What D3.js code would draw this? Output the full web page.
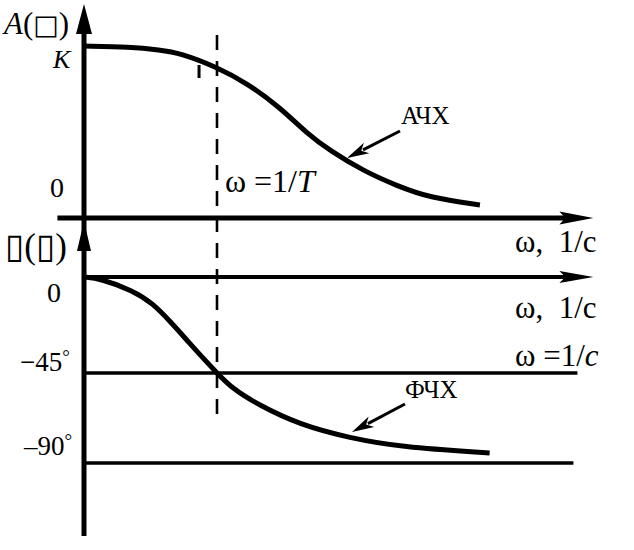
<!DOCTYPE html>
<html><head><meta charset="utf-8">
<script src="https://cdn.jsdelivr.net/npm/d3@7"></script>
<style>body{margin:0;background:#fff}svg{display:block}text{font-family:"Liberation Serif","Times New Roman",serif;fill:#000;white-space:pre}</style>
</head><body>
<svg id="c" width="634" height="550"></svg>
<script>
// ---- data ----
const omegaA = [0, 0.346, 0.571, 0.722, 1.0, 1.226, 1.474, 1.677, 1.850, 2.098, 2.353, 2.602, 2.977];
const ampA   = [1.0, 0.994, 0.977, 0.959, 0.877, 0.784, 0.643, 0.491, 0.392, 0.275, 0.187, 0.117, 0.076];
const omegaPhi = [0, 0.12, 0.368, 0.520, 0.647, 0.774, 0.872, 1.0, 1.12, 1.30, 1.624, 2.0, 2.376, 3.05];
const phaseDeg = [0, -0.7, -6.3, -12.5, -20.8, -29.6, -36.5, -45, -53, -60.5, -71, -77.5, -82, -85];
const phaseTicks = [0, -45, -90];
const cornerOmega = 1.0;      // ω = 1/T
const markOmega = 0.865;      // small tick on АЧХ
const omegaMax = 3.83;

const svg = d3.select("#c");
const x  = d3.scaleLinear().domain([0, 1]).range([84, 217]);
const yA = d3.scaleLinear().domain([0, 1]).range([218, 46]);
const yP = d3.scaleLinear().domain([0, -45, -90]).range([277, 373, 463]);

function line(x1,y1,x2,y2,w,dash){
  const l = svg.append("line").attr("x1",x1).attr("y1",y1).attr("x2",x2).attr("y2",y2)
    .attr("stroke","#000").attr("stroke-width",w);
  if(dash) l.attr("stroke-dasharray",dash);
  return l;
}
function tri(pts){ svg.append("path").attr("d","M"+pts.map(p=>p.join(",")).join("L")+"Z").attr("fill","#000"); }

// dashed line ω = 1/T
line(x(cornerOmega), 35, x(cornerOmega), 422, 2.6, "15,11");

// horizontal reference lines of phase
line(x(0), yP(-45), x(3.71), yP(-45), 3.4);
line(x(0), yP(-90), x(3.68), yP(-90), 3.4);

// axes
line(x(-0.2), yA(0), x(omegaMax)-20, yA(0), 5);
tri([[x(omegaMax), yA(0)], [x(omegaMax)-34, yA(0)-6.5], [x(omegaMax)-28, yA(0)], [x(omegaMax)-34, yA(0)+6.5]]);
line(x(0), yP(0), x(omegaMax)-20, yP(0), 4);
tri([[x(omegaMax), yP(0)], [x(omegaMax)-34, yP(0)-6], [x(omegaMax)-28, yP(0)], [x(omegaMax)-34, yP(0)+6]]);
line(x(0), 536, x(0), 20, 5);
tri([[x(0), 4], [x(0)-8, 34], [x(0)+8, 34]]);
tri([[x(0), 221], [x(0)-7, 251], [x(0)+7, 251]]);

// small tick
line(x(markOmega), 65, x(markOmega), 78, 3);

// curves
const gen = d3.line().curve(d3.curveBasis);
const ptsA = omegaA.map((w,i)=>[x(w), yA(ampA[i])]);
const ptsP = omegaPhi.map((w,i)=>[x(w), yP(phaseDeg[i])]);
svg.append("path").attr("d", gen(ptsA))
  .attr("fill","none").attr("stroke","#000").attr("stroke-width",5);
svg.append("path").attr("d", gen(ptsP))
  .attr("fill","none").attr("stroke","#000").attr("stroke-width",5);

// label arrows
function arrow(x1,y1,x2,y2){
  const a = Math.atan2(y2-y1, x2-x1), L = 22, H = 6;
  const bx = x2 - L*Math.cos(a), by = y2 - L*Math.sin(a);
  line(x1,y1,bx+4*Math.cos(a),by+4*Math.sin(a),3);
  tri([[x2,y2],[bx - H*Math.sin(a), by + H*Math.cos(a)],[bx + 6*Math.cos(a), by + 6*Math.sin(a)],[bx + H*Math.sin(a), by - H*Math.cos(a)]]);
}
arrow(400,131,347,158);
arrow(405,404,352,432);

// texts
function txt(s,xp,yp,size,style){ const t=svg.append("text").attr("x",xp).attr("y",yp).attr("font-size",size); if(style) t.attr("font-style",style); t.text(s); return t; }

// A(□)
const tA = svg.append("text").attr("x",4).attr("y",34).attr("font-size",31);
tA.append("tspan").attr("font-style","italic").text("A");
tA.append("tspan").text("(");
tA.append("tspan").attr("font-family","DejaVu Sans").attr("font-size",27).text("□");
tA.append("tspan").text(")");
txt("K",53,68,26,"italic");
txt("0",50,197,28);

// ▯(▯)
const tP = svg.append("text").attr("x",5).attr("y",258).attr("font-size",35);
tP.append("tspan").attr("font-family","DejaVu Sans").text("▯");
tP.append("tspan").text("(");
tP.append("tspan").attr("font-family","DejaVu Sans").text("▯");
tP.append("tspan").text(")");
txt(String(phaseTicks[0]),47,302,28);
const t45 = svg.append("text").attr("x",20).attr("y",371).attr("font-size",27);
t45.append("tspan").text("−45");
t45.append("tspan").attr("font-size",19).attr("dy",-8).text("°");
const t90 = svg.append("text").attr("x",24).attr("y",455).attr("font-size",27);
t90.append("tspan").text("–90");
t90.append("tspan").attr("font-size",19).attr("dy",-8).text("°");

// ω = 1/T
const tT = svg.append("text").attr("x",225).attr("y",192).attr("font-size",32);
tT.append("tspan").text("ω =1/");
tT.append("tspan").attr("font-style","italic").text("T");

txt("АЧХ",401,124,25);
txt("ФЧХ",405,398,25);

txt("ω,  1/c",515,252,31);
txt("ω,  1/c",515,318,31);
const tC = svg.append("text").attr("x",515).attr("y",366).attr("font-size",31);
tC.append("tspan").text("ω =1/");
tC.append("tspan").attr("font-style","italic").text("c");
</script>
</body></html>
